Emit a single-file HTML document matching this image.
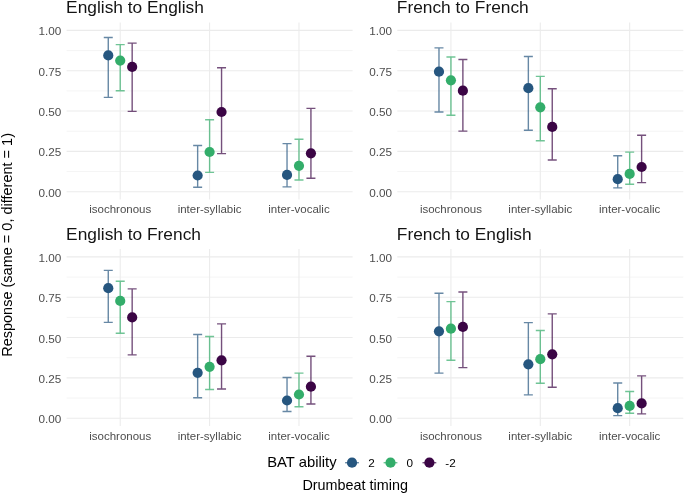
<!DOCTYPE html>
<html><head><meta charset="utf-8"><title>Figure</title>
<style>html,body{margin:0;padding:0;background:#fff}svg{display:block}text{font-family:"Liberation Sans",Arial,sans-serif}</style></head><body>
<svg width="685" height="495" viewBox="0 0 685 495">
<rect width="685" height="495" fill="#fff"/>
<g>
<line x1="66.6" x2="352.6" y1="171.54" y2="171.54" stroke="#EBEBEB" stroke-width="0.55"/>
<line x1="66.6" x2="352.6" y1="131.21" y2="131.21" stroke="#EBEBEB" stroke-width="0.55"/>
<line x1="66.6" x2="352.6" y1="90.89" y2="90.89" stroke="#EBEBEB" stroke-width="0.55"/>
<line x1="66.6" x2="352.6" y1="50.56" y2="50.56" stroke="#EBEBEB" stroke-width="0.55"/>
<line x1="66.6" x2="352.6" y1="191.70" y2="191.70" stroke="#EBEBEB" stroke-width="1.07"/>
<text x="61.3" y="196.70" font-size="11.73" fill="#4D4D4D" text-anchor="end">0.00</text>
<line x1="66.6" x2="352.6" y1="151.38" y2="151.38" stroke="#EBEBEB" stroke-width="1.07"/>
<text x="61.3" y="156.38" font-size="11.73" fill="#4D4D4D" text-anchor="end">0.25</text>
<line x1="66.6" x2="352.6" y1="111.05" y2="111.05" stroke="#EBEBEB" stroke-width="1.07"/>
<text x="61.3" y="116.05" font-size="11.73" fill="#4D4D4D" text-anchor="end">0.50</text>
<line x1="66.6" x2="352.6" y1="70.72" y2="70.72" stroke="#EBEBEB" stroke-width="1.07"/>
<text x="61.3" y="75.72" font-size="11.73" fill="#4D4D4D" text-anchor="end">0.75</text>
<line x1="66.6" x2="352.6" y1="30.40" y2="30.40" stroke="#EBEBEB" stroke-width="1.07"/>
<text x="61.3" y="35.40" font-size="11.73" fill="#4D4D4D" text-anchor="end">1.00</text>
<line x1="120.22" x2="120.22" y1="22.4" y2="199.6" stroke="#EBEBEB" stroke-width="1.07"/>
<line x1="209.60" x2="209.60" y1="22.4" y2="199.6" stroke="#EBEBEB" stroke-width="1.07"/>
<line x1="298.98" x2="298.98" y1="22.4" y2="199.6" stroke="#EBEBEB" stroke-width="1.07"/>
<text x="120.22" y="213.1" font-size="11.5" fill="#4D4D4D" text-anchor="middle">isochronous</text>
<text x="209.60" y="213.1" font-size="11.5" fill="#4D4D4D" text-anchor="middle">inter-syllabic</text>
<text x="298.98" y="213.1" font-size="11.5" fill="#4D4D4D" text-anchor="middle">inter-vocalic</text>
<text x="66.1" y="13.3" font-size="17.33" fill="#141414">English to English</text>
<path d="M103.77 37.50H112.77M108.27 37.50V97.40M103.77 97.40H112.77" stroke="#26567F" stroke-opacity="0.7" stroke-width="1.4" fill="none"/>
<path d="M115.72 44.60H124.72M120.22 44.60V90.80M115.72 90.80H124.72" stroke="#33AD6A" stroke-opacity="0.7" stroke-width="1.4" fill="none"/>
<path d="M127.67 43.10H136.67M132.17 43.10V111.40M127.67 111.40H136.67" stroke="#3B0545" stroke-opacity="0.7" stroke-width="1.4" fill="none"/>
<path d="M193.15 145.50H202.15M197.65 145.50V187.30M193.15 187.30H202.15" stroke="#26567F" stroke-opacity="0.7" stroke-width="1.4" fill="none"/>
<path d="M205.10 119.80H214.10M209.60 119.80V172.40M205.10 172.40H214.10" stroke="#33AD6A" stroke-opacity="0.7" stroke-width="1.4" fill="none"/>
<path d="M217.05 67.80H226.05M221.55 67.80V153.60M217.05 153.60H226.05" stroke="#3B0545" stroke-opacity="0.7" stroke-width="1.4" fill="none"/>
<path d="M282.53 143.60H291.53M287.03 143.60V186.90M282.53 186.90H291.53" stroke="#26567F" stroke-opacity="0.7" stroke-width="1.4" fill="none"/>
<path d="M294.48 139.30H303.48M298.98 139.30V180.00M294.48 180.00H303.48" stroke="#33AD6A" stroke-opacity="0.7" stroke-width="1.4" fill="none"/>
<path d="M306.43 108.40H315.43M310.93 108.40V178.20M306.43 178.20H315.43" stroke="#3B0545" stroke-opacity="0.7" stroke-width="1.4" fill="none"/>
<circle cx="108.27" cy="55.40" r="5.1" fill="#26567F"/>
<circle cx="120.22" cy="60.60" r="5.1" fill="#33AD6A"/>
<circle cx="132.17" cy="66.90" r="5.1" fill="#3B0545"/>
<circle cx="197.65" cy="175.50" r="5.1" fill="#26567F"/>
<circle cx="209.60" cy="152.00" r="5.1" fill="#33AD6A"/>
<circle cx="221.55" cy="112.00" r="5.1" fill="#3B0545"/>
<circle cx="287.03" cy="174.90" r="5.1" fill="#26567F"/>
<circle cx="298.98" cy="165.80" r="5.1" fill="#33AD6A"/>
<circle cx="310.93" cy="153.30" r="5.1" fill="#3B0545"/>
</g>
<g>
<line x1="397.3" x2="683.3" y1="171.54" y2="171.54" stroke="#EBEBEB" stroke-width="0.55"/>
<line x1="397.3" x2="683.3" y1="131.21" y2="131.21" stroke="#EBEBEB" stroke-width="0.55"/>
<line x1="397.3" x2="683.3" y1="90.89" y2="90.89" stroke="#EBEBEB" stroke-width="0.55"/>
<line x1="397.3" x2="683.3" y1="50.56" y2="50.56" stroke="#EBEBEB" stroke-width="0.55"/>
<line x1="397.3" x2="683.3" y1="191.70" y2="191.70" stroke="#EBEBEB" stroke-width="1.07"/>
<text x="392.0" y="196.70" font-size="11.73" fill="#4D4D4D" text-anchor="end">0.00</text>
<line x1="397.3" x2="683.3" y1="151.38" y2="151.38" stroke="#EBEBEB" stroke-width="1.07"/>
<text x="392.0" y="156.38" font-size="11.73" fill="#4D4D4D" text-anchor="end">0.25</text>
<line x1="397.3" x2="683.3" y1="111.05" y2="111.05" stroke="#EBEBEB" stroke-width="1.07"/>
<text x="392.0" y="116.05" font-size="11.73" fill="#4D4D4D" text-anchor="end">0.50</text>
<line x1="397.3" x2="683.3" y1="70.72" y2="70.72" stroke="#EBEBEB" stroke-width="1.07"/>
<text x="392.0" y="75.72" font-size="11.73" fill="#4D4D4D" text-anchor="end">0.75</text>
<line x1="397.3" x2="683.3" y1="30.40" y2="30.40" stroke="#EBEBEB" stroke-width="1.07"/>
<text x="392.0" y="35.40" font-size="11.73" fill="#4D4D4D" text-anchor="end">1.00</text>
<line x1="450.93" x2="450.93" y1="22.4" y2="199.6" stroke="#EBEBEB" stroke-width="1.07"/>
<line x1="540.30" x2="540.30" y1="22.4" y2="199.6" stroke="#EBEBEB" stroke-width="1.07"/>
<line x1="629.67" x2="629.67" y1="22.4" y2="199.6" stroke="#EBEBEB" stroke-width="1.07"/>
<text x="450.93" y="213.1" font-size="11.5" fill="#4D4D4D" text-anchor="middle">isochronous</text>
<text x="540.30" y="213.1" font-size="11.5" fill="#4D4D4D" text-anchor="middle">inter-syllabic</text>
<text x="629.67" y="213.1" font-size="11.5" fill="#4D4D4D" text-anchor="middle">inter-vocalic</text>
<text x="396.8" y="13.3" font-size="17.33" fill="#141414">French to French</text>
<path d="M434.48 47.90H443.48M438.98 47.90V112.00M434.48 112.00H443.48" stroke="#26567F" stroke-opacity="0.7" stroke-width="1.4" fill="none"/>
<path d="M446.43 57.00H455.43M450.93 57.00V115.30M446.43 115.30H455.43" stroke="#33AD6A" stroke-opacity="0.7" stroke-width="1.4" fill="none"/>
<path d="M458.38 59.50H467.38M462.88 59.50V131.10M458.38 131.10H467.38" stroke="#3B0545" stroke-opacity="0.7" stroke-width="1.4" fill="none"/>
<path d="M523.85 56.50H532.85M528.35 56.50V130.20M523.85 130.20H532.85" stroke="#26567F" stroke-opacity="0.7" stroke-width="1.4" fill="none"/>
<path d="M535.80 76.40H544.80M540.30 76.40V140.70M535.80 140.70H544.80" stroke="#33AD6A" stroke-opacity="0.7" stroke-width="1.4" fill="none"/>
<path d="M547.75 88.70H556.75M552.25 88.70V160.00M547.75 160.00H556.75" stroke="#3B0545" stroke-opacity="0.7" stroke-width="1.4" fill="none"/>
<path d="M613.22 155.70H622.22M617.72 155.70V187.90M613.22 187.90H622.22" stroke="#26567F" stroke-opacity="0.7" stroke-width="1.4" fill="none"/>
<path d="M625.17 152.10H634.17M629.67 152.10V184.30M625.17 184.30H634.17" stroke="#33AD6A" stroke-opacity="0.7" stroke-width="1.4" fill="none"/>
<path d="M637.12 135.20H646.12M641.62 135.20V182.60M637.12 182.60H646.12" stroke="#3B0545" stroke-opacity="0.7" stroke-width="1.4" fill="none"/>
<circle cx="438.98" cy="71.70" r="5.1" fill="#26567F"/>
<circle cx="450.93" cy="80.30" r="5.1" fill="#33AD6A"/>
<circle cx="462.88" cy="90.70" r="5.1" fill="#3B0545"/>
<circle cx="528.35" cy="88.20" r="5.1" fill="#26567F"/>
<circle cx="540.30" cy="107.30" r="5.1" fill="#33AD6A"/>
<circle cx="552.25" cy="126.90" r="5.1" fill="#3B0545"/>
<circle cx="617.72" cy="179.20" r="5.1" fill="#26567F"/>
<circle cx="629.67" cy="173.90" r="5.1" fill="#33AD6A"/>
<circle cx="641.62" cy="167.00" r="5.1" fill="#3B0545"/>
</g>
<g>
<line x1="66.6" x2="352.6" y1="398.04" y2="398.04" stroke="#EBEBEB" stroke-width="0.55"/>
<line x1="66.6" x2="352.6" y1="357.71" y2="357.71" stroke="#EBEBEB" stroke-width="0.55"/>
<line x1="66.6" x2="352.6" y1="317.39" y2="317.39" stroke="#EBEBEB" stroke-width="0.55"/>
<line x1="66.6" x2="352.6" y1="277.06" y2="277.06" stroke="#EBEBEB" stroke-width="0.55"/>
<line x1="66.6" x2="352.6" y1="418.20" y2="418.20" stroke="#EBEBEB" stroke-width="1.07"/>
<text x="61.3" y="423.20" font-size="11.73" fill="#4D4D4D" text-anchor="end">0.00</text>
<line x1="66.6" x2="352.6" y1="377.88" y2="377.88" stroke="#EBEBEB" stroke-width="1.07"/>
<text x="61.3" y="382.88" font-size="11.73" fill="#4D4D4D" text-anchor="end">0.25</text>
<line x1="66.6" x2="352.6" y1="337.55" y2="337.55" stroke="#EBEBEB" stroke-width="1.07"/>
<text x="61.3" y="342.55" font-size="11.73" fill="#4D4D4D" text-anchor="end">0.50</text>
<line x1="66.6" x2="352.6" y1="297.22" y2="297.22" stroke="#EBEBEB" stroke-width="1.07"/>
<text x="61.3" y="302.22" font-size="11.73" fill="#4D4D4D" text-anchor="end">0.75</text>
<line x1="66.6" x2="352.6" y1="256.90" y2="256.90" stroke="#EBEBEB" stroke-width="1.07"/>
<text x="61.3" y="261.90" font-size="11.73" fill="#4D4D4D" text-anchor="end">1.00</text>
<line x1="120.22" x2="120.22" y1="248.9" y2="426.0" stroke="#EBEBEB" stroke-width="1.07"/>
<line x1="209.60" x2="209.60" y1="248.9" y2="426.0" stroke="#EBEBEB" stroke-width="1.07"/>
<line x1="298.98" x2="298.98" y1="248.9" y2="426.0" stroke="#EBEBEB" stroke-width="1.07"/>
<text x="120.22" y="439.5" font-size="11.5" fill="#4D4D4D" text-anchor="middle">isochronous</text>
<text x="209.60" y="439.5" font-size="11.5" fill="#4D4D4D" text-anchor="middle">inter-syllabic</text>
<text x="298.98" y="439.5" font-size="11.5" fill="#4D4D4D" text-anchor="middle">inter-vocalic</text>
<text x="66.1" y="239.7" font-size="17.33" fill="#141414">English to French</text>
<path d="M103.77 270.40H112.77M108.27 270.40V322.40M103.77 322.40H112.77" stroke="#26567F" stroke-opacity="0.7" stroke-width="1.4" fill="none"/>
<path d="M115.72 281.30H124.72M120.22 281.30V333.20M115.72 333.20H124.72" stroke="#33AD6A" stroke-opacity="0.7" stroke-width="1.4" fill="none"/>
<path d="M127.67 288.90H136.67M132.17 288.90V354.90M127.67 354.90H136.67" stroke="#3B0545" stroke-opacity="0.7" stroke-width="1.4" fill="none"/>
<path d="M193.15 334.50H202.15M197.65 334.50V397.70M193.15 397.70H202.15" stroke="#26567F" stroke-opacity="0.7" stroke-width="1.4" fill="none"/>
<path d="M205.10 336.50H214.10M209.60 336.50V389.50M205.10 389.50H214.10" stroke="#33AD6A" stroke-opacity="0.7" stroke-width="1.4" fill="none"/>
<path d="M217.05 323.90H226.05M221.55 323.90V389.00M217.05 389.00H226.05" stroke="#3B0545" stroke-opacity="0.7" stroke-width="1.4" fill="none"/>
<path d="M282.53 377.50H291.53M287.03 377.50V411.50M282.53 411.50H291.53" stroke="#26567F" stroke-opacity="0.7" stroke-width="1.4" fill="none"/>
<path d="M294.48 373.10H303.48M298.98 373.10V406.70M294.48 406.70H303.48" stroke="#33AD6A" stroke-opacity="0.7" stroke-width="1.4" fill="none"/>
<path d="M306.43 356.20H315.43M310.93 356.20V404.00M306.43 404.00H315.43" stroke="#3B0545" stroke-opacity="0.7" stroke-width="1.4" fill="none"/>
<circle cx="108.27" cy="288.20" r="5.1" fill="#26567F"/>
<circle cx="120.22" cy="300.90" r="5.1" fill="#33AD6A"/>
<circle cx="132.17" cy="317.40" r="5.1" fill="#3B0545"/>
<circle cx="197.65" cy="372.80" r="5.1" fill="#26567F"/>
<circle cx="209.60" cy="366.80" r="5.1" fill="#33AD6A"/>
<circle cx="221.55" cy="360.30" r="5.1" fill="#3B0545"/>
<circle cx="287.03" cy="400.50" r="5.1" fill="#26567F"/>
<circle cx="298.98" cy="394.50" r="5.1" fill="#33AD6A"/>
<circle cx="310.93" cy="386.70" r="5.1" fill="#3B0545"/>
</g>
<g>
<line x1="397.3" x2="683.3" y1="398.04" y2="398.04" stroke="#EBEBEB" stroke-width="0.55"/>
<line x1="397.3" x2="683.3" y1="357.71" y2="357.71" stroke="#EBEBEB" stroke-width="0.55"/>
<line x1="397.3" x2="683.3" y1="317.39" y2="317.39" stroke="#EBEBEB" stroke-width="0.55"/>
<line x1="397.3" x2="683.3" y1="277.06" y2="277.06" stroke="#EBEBEB" stroke-width="0.55"/>
<line x1="397.3" x2="683.3" y1="418.20" y2="418.20" stroke="#EBEBEB" stroke-width="1.07"/>
<text x="392.0" y="423.20" font-size="11.73" fill="#4D4D4D" text-anchor="end">0.00</text>
<line x1="397.3" x2="683.3" y1="377.88" y2="377.88" stroke="#EBEBEB" stroke-width="1.07"/>
<text x="392.0" y="382.88" font-size="11.73" fill="#4D4D4D" text-anchor="end">0.25</text>
<line x1="397.3" x2="683.3" y1="337.55" y2="337.55" stroke="#EBEBEB" stroke-width="1.07"/>
<text x="392.0" y="342.55" font-size="11.73" fill="#4D4D4D" text-anchor="end">0.50</text>
<line x1="397.3" x2="683.3" y1="297.22" y2="297.22" stroke="#EBEBEB" stroke-width="1.07"/>
<text x="392.0" y="302.22" font-size="11.73" fill="#4D4D4D" text-anchor="end">0.75</text>
<line x1="397.3" x2="683.3" y1="256.90" y2="256.90" stroke="#EBEBEB" stroke-width="1.07"/>
<text x="392.0" y="261.90" font-size="11.73" fill="#4D4D4D" text-anchor="end">1.00</text>
<line x1="450.93" x2="450.93" y1="248.9" y2="426.0" stroke="#EBEBEB" stroke-width="1.07"/>
<line x1="540.30" x2="540.30" y1="248.9" y2="426.0" stroke="#EBEBEB" stroke-width="1.07"/>
<line x1="629.67" x2="629.67" y1="248.9" y2="426.0" stroke="#EBEBEB" stroke-width="1.07"/>
<text x="450.93" y="439.5" font-size="11.5" fill="#4D4D4D" text-anchor="middle">isochronous</text>
<text x="540.30" y="439.5" font-size="11.5" fill="#4D4D4D" text-anchor="middle">inter-syllabic</text>
<text x="629.67" y="439.5" font-size="11.5" fill="#4D4D4D" text-anchor="middle">inter-vocalic</text>
<text x="396.8" y="239.7" font-size="17.33" fill="#141414">French to English</text>
<path d="M434.48 293.30H443.48M438.98 293.30V373.10M434.48 373.10H443.48" stroke="#26567F" stroke-opacity="0.7" stroke-width="1.4" fill="none"/>
<path d="M446.43 301.60H455.43M450.93 301.60V360.20M446.43 360.20H455.43" stroke="#33AD6A" stroke-opacity="0.7" stroke-width="1.4" fill="none"/>
<path d="M458.38 292.00H467.38M462.88 292.00V367.60M458.38 367.60H467.38" stroke="#3B0545" stroke-opacity="0.7" stroke-width="1.4" fill="none"/>
<path d="M523.85 322.60H532.85M528.35 322.60V394.90M523.85 394.90H532.85" stroke="#26567F" stroke-opacity="0.7" stroke-width="1.4" fill="none"/>
<path d="M535.80 330.50H544.80M540.30 330.50V383.30M535.80 383.30H544.80" stroke="#33AD6A" stroke-opacity="0.7" stroke-width="1.4" fill="none"/>
<path d="M547.75 313.90H556.75M552.25 313.90V387.30M547.75 387.30H556.75" stroke="#3B0545" stroke-opacity="0.7" stroke-width="1.4" fill="none"/>
<path d="M613.22 383.00H622.22M617.72 383.00V415.60M613.22 415.60H622.22" stroke="#26567F" stroke-opacity="0.7" stroke-width="1.4" fill="none"/>
<path d="M625.17 391.50H634.17M629.67 391.50V413.20M625.17 413.20H634.17" stroke="#33AD6A" stroke-opacity="0.7" stroke-width="1.4" fill="none"/>
<path d="M637.12 375.90H646.12M641.62 375.90V413.90M637.12 413.90H646.12" stroke="#3B0545" stroke-opacity="0.7" stroke-width="1.4" fill="none"/>
<circle cx="438.98" cy="331.30" r="5.1" fill="#26567F"/>
<circle cx="450.93" cy="328.70" r="5.1" fill="#33AD6A"/>
<circle cx="462.88" cy="326.90" r="5.1" fill="#3B0545"/>
<circle cx="528.35" cy="364.30" r="5.1" fill="#26567F"/>
<circle cx="540.30" cy="359.20" r="5.1" fill="#33AD6A"/>
<circle cx="552.25" cy="354.30" r="5.1" fill="#3B0545"/>
<circle cx="617.72" cy="408.20" r="5.1" fill="#26567F"/>
<circle cx="629.67" cy="405.90" r="5.1" fill="#33AD6A"/>
<circle cx="641.62" cy="403.40" r="5.1" fill="#3B0545"/>
</g>
<text transform="translate(12.3,244.9) rotate(-90)" font-size="14.5" fill="#000" text-anchor="middle">Response (same = 0, different = 1)</text>
<text x="355.2" y="490.4" font-size="14.4" fill="#000" text-anchor="middle">Drumbeat timing</text>
<text x="267.2" y="467.1" font-size="14.8" fill="#000">BAT ability</text>
<line x1="345.1" x2="358.9" y1="462.7" y2="462.7" stroke="#26567F" stroke-opacity="0.7" stroke-width="1.4"/>
<circle cx="352.0" cy="462.7" r="5.1" fill="#26567F"/>
<text x="368.3" y="466.7" font-size="11.73" fill="#000">2</text>
<line x1="383.6" x2="397.4" y1="462.7" y2="462.7" stroke="#33AD6A" stroke-opacity="0.7" stroke-width="1.4"/>
<circle cx="390.5" cy="462.7" r="5.1" fill="#33AD6A"/>
<text x="406.5" y="466.7" font-size="11.73" fill="#000">0</text>
<line x1="422.5" x2="436.3" y1="462.7" y2="462.7" stroke="#3B0545" stroke-opacity="0.7" stroke-width="1.4"/>
<circle cx="429.4" cy="462.7" r="5.1" fill="#3B0545"/>
<text x="445.3" y="466.7" font-size="11.73" fill="#000">-2</text>
</svg></body></html>
